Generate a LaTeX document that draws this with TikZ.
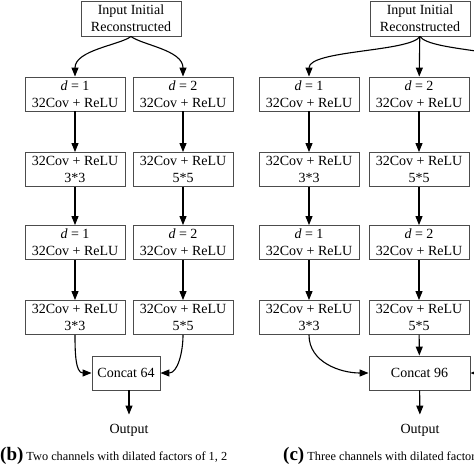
\documentclass[tikz,border=0pt]{standalone}
\usepackage{fontspec}
\setmainfont{Liberation Serif}
\usetikzlibrary{arrows.meta}

\begin{document}
\begin{tikzpicture}[x=1pt, y=-1pt,
		box/.style={rectangle, draw=black!70, line width=0.9pt, fill=white, minimum width=100pt, minimum height=34pt, inner sep=0pt, align=center, font=\fontsize{14}{17}\selectfont},
		arr/.style={-{Triangle[length=9pt, width=7pt]}, line width=1.1pt},
		outlabel/.style={font=\fontsize{14}{17}\selectfont, outer sep=6pt},
		caption/.style={anchor=base west, inner sep=0pt, font=\fontsize{12.3}{14}\selectfont}
	]
	\useasboundingbox (0,0) rectangle (474,474);
	\clip (0,0) rectangle (474,474);

	% inputs
	\node[box, minimum height=35pt] (in1) at (131,18.5) {Input Initial \\ Reconstructed};
	\node[box, minimum height=35pt] (in2) at (420,18.5) {Input Initial \\ Reconstructed};

	% channels
	\foreach \col/\x/\d/\k in {a/75/1/3, b/183/2/5, p/309/1/3, q/419/2/5} {
			\node[box] (\col1) at (\x,94) {\textit{d} = \d \\ 32Cov + ReLU};
			\node[box] (\col2) at (\x,169.5) {32Cov + ReLU \\ \k*\k};
			\node[box] (\col3) at (\x,242.5) {\textit{d} = \d \\ 32Cov + ReLU};
			\node[box] (\col4) at (\x,317.5) {32Cov + ReLU \\ \k*\k};
			\draw[arr] (\col1) -- (\col2);
			\draw[arr] (\col2) -- (\col3);
			\draw[arr] (\col3) -- (\col4);
		}

	% third channel of (c), outside the frame
	\coordinate (r1) at (529,77);
	\coordinate (r4) at (529,335);

	% concat and output
	\node[box, minimum width=68pt] (cat1) at (126,373) {Concat 64};
	\node[box, minimum width=101pt] (cat2) at (419.5,373) {Concat 96};
	\node[outlabel] (out1) at (129,430) {Output};
	\node[outlabel] (out2) at (420,430) {Output};

	% (b) connectors
	\draw[arr] (in1.south) .. controls (120,45) and (75,50) .. (a1.north);
	\draw[arr] (in1.south) .. controls (142,45) and (183,50) .. (b1.north);
	\draw[arr] (a4) to[out=-90, in=180] (cat1);
	\draw[arr] (b4) to[out=-90, in=0] (cat1);
	\draw[arr] (cat1.south -| out1) -- (out1);

	% (c) connectors
	\draw[arr] (in2.south) .. controls (410,52) and (309,50) .. (p1.north);
	\draw[arr] (in2) -- (q1);
	\draw[arr] (in2.south) .. controls (430,52) and (529,50) .. (r1);
	\draw[arr] (p4) to[out=-90, in=180] (cat2);
	\draw[arr] (q4) -- (cat2);
	\draw[arr] (r4) to[out=-90, in=0] (cat2);
	\draw[arr] (cat2) -- (out2);

	% captions
	\node[caption] (capb) at (0,460) {{\fontsize{19}{19}\selectfont\bfseries (b)} Two channels with dilated factors of 1, 2};
	\node[caption] (capc) at (283,460) {{\fontsize{19}{19}\selectfont\bfseries (c)} Three channels with dilated factors of 1, 2, 3};
\end{tikzpicture}
\end{document}
